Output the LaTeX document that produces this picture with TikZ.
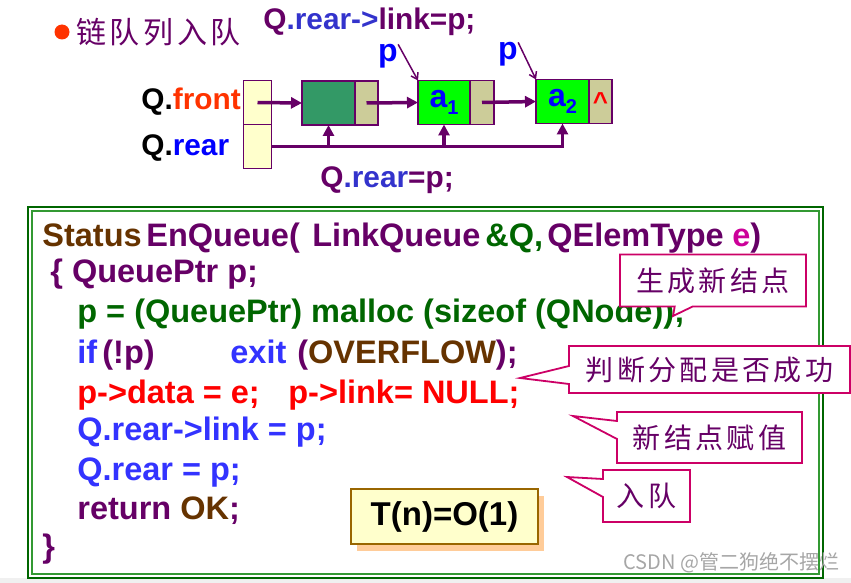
\documentclass[tikz,border=0pt]{standalone}
\usepackage{fontspec}
\setmainfont{Liberation Sans}
\newfontfamily\cjk[LetterSpace=12]{Noto Sans CJK SC}
\newfontfamily\wmfont{Noto Sans CJK SC}
\usetikzlibrary{arrows.meta,positioning,shapes.callouts}

\definecolor{qpurple}{HTML}{660066}
\definecolor{qbrown}{HTML}{663300}
\definecolor{qgreen}{HTML}{006600}
\definecolor{qblue}{HTML}{3333FF}
\definecolor{tblue}{HTML}{3333CC}
\definecolor{qred}{HTML}{FF0000}
\definecolor{qmag}{HTML}{CC0099}
\definecolor{qorange}{HTML}{FF3300}
\definecolor{cmag}{HTML}{CC0066}
\definecolor{cellyellow}{HTML}{FFFFCC}
\definecolor{headgreen}{HTML}{339966}
\definecolor{datagreen}{HTML}{00FF00}
\definecolor{linkkhaki}{HTML}{CCCC99}
\definecolor{tbrown}{HTML}{996600}
\definecolor{peach}{HTML}{FFCC99}
\definecolor{framegreen}{HTML}{006600}
\definecolor{framegreen2}{HTML}{339933}

\tikzset{every picture/.style={line width=0.75pt}}

\begin{document}
\begin{tikzpicture}[x=1pt,y=1pt,yscale=-1,xscale=1,
  code/.style={anchor=base west,inner sep=0pt,font=\fontsize{32.5}{32.5}\selectfont\bfseries},
  lbl/.style={anchor=base west,inner sep=0pt,font=\fontsize{29.8}{29.8}\selectfont\bfseries},
  cell/.style={draw=qpurple,line width=1.2pt,minimum height=44pt,inner sep=0pt,outer sep=0pt,
    font=\fontsize{32}{32}\selectfont\bfseries},
  ptr/.style={draw=qpurple,line width=3.5pt,-{Triangle[length=11pt,width=11pt]}},
  parrow/.style={draw=qpurple,line width=1.5pt,-{Straight Barb[length=6pt,width=8pt]}},
  callbox/.style={rectangle callout,draw=cmag,line width=1.8pt,fill=white,inner sep=0pt,
    callout pointer width=18pt,text=qpurple,font={\cjk\fontsize{28}{28}\selectfont}}]
\useasboundingbox (0,0) rectangle (851,583);
\fill[gray!12] (0,578) rectangle (851,583);

% heading
\fill[qorange] (62,32) circle (7.5);
\node[anchor=west,inner sep=0pt,text=qpurple,font={\cjk\fontsize{30}{30}\selectfont}] (title) at (76,32) {链队列入队};
\node[lbl] (setlink) at (263,30) {\textcolor{qpurple}{Q}\textcolor{tblue}{.rear->}\textcolor{qpurple}{link=p;}};
\node[lbl] (setrear) at (320,187) {\textcolor{qpurple}{Q}\textcolor{tblue}{.rear}\textcolor{qpurple}{=p;}};
\node[lbl] (frontlbl) at (141,110) {Q.\textcolor{qorange}{front}};
\node[lbl] (rearlbl) at (141,155) {Q.\textcolor{blue}{rear}};

% queue head and nodes
\node[cell,fill=cellyellow,minimum width=28pt] (qf) at (257.5,102.5) {};
\node[cell,fill=cellyellow,minimum width=28pt,below=0pt of qf] (qr) {};
\node[cell,fill=headgreen,minimum width=53pt] (n0d) at (328.5,103) {};
\node[cell,fill=linkkhaki,minimum width=23pt,right=0pt of n0d] (n0p) {};
\node[cell,fill=datagreen,minimum width=52pt,text=blue] (n1d) at (444,102.5) {a\raisebox{-7pt}{\fontsize{20}{20}\selectfont 1}};
\node[cell,fill=linkkhaki,minimum width=24pt,right=0pt of n1d] (n1p) {};
\node[cell,fill=datagreen,minimum width=53pt,text=blue] (n2d) at (562.5,101.5) {a\raisebox{-7pt}{\fontsize{20}{20}\selectfont 2}};
\node[cell,fill=linkkhaki,minimum width=23pt,right=0pt of n2d,text=qred,font=\fontsize{26}{26}\selectfont\bfseries] (n2p) {\raisebox{-5pt}{\textasciicircum}};

% pointers
\draw[ptr] (qf.center) -- (n0d.west);
\draw[ptr] (n0p.center) -- (n1d.west);
\draw[ptr] (n1p.center) -- (n2d.west);
\draw[ptr] (qr.east) -| (n2d.south);
\draw[ptr] (n0d.south |- qr.east) -- (n0d.south);
\draw[ptr] (n1d.south |- qr.east) -- (n1d.south);

\node[anchor=base,inner sep=0pt,text=blue,font=\fontsize{32}{32}\selectfont\bfseries] (p1) at (388,62) {p};
\node[anchor=base,inner sep=0pt,text=blue,font=\fontsize{32}{32}\selectfont\bfseries] (p2) at (508,60) {p};
\draw[parrow] (p1.north east) -- (n1d.north west);
\draw[parrow] (p2.north east) -- (n2d.north west);

% code frame
\draw[framegreen,line width=2.5pt] (28,207) rectangle (823,578);
\draw[framegreen2,line width=1.5pt] (32,211) rectangle (819,574);

% code lines
\node[code,text=qbrown] (l1a) at (42,246) {Status};
\node[code,text=qpurple] (l1b) at (146,246) {EnQueue(};
\node[code,text=qpurple] (l1c) at (312,246) {LinkQueue};
\node[code,text=qgreen] (l1d) at (485,246) {\&Q,};
\node[code,text=qpurple] (l1e) at (547,246) {QElemType};
\node[code,text=qpurple] (l1f) at (732,246) {\textcolor{qmag}{e})};
\node[code,text=qpurple] (l2) at (50,282) {\{ QueuePtr p;};
\node[code,text=qgreen] (l3) at (77,322) {p = (QueuePtr) malloc (sizeof (QNode));};
\node[code,text=qblue] (l4a) at (77,363) {if};
\node[code,text=qpurple] (l4b) at (102,363) {(!p)};
\node[code,text=qblue] (l4c) at (230,363) {exit};
\node[code,text=qpurple] (l4d) at (297,363) {(\textcolor{qbrown}{OVERFLOW});};
\node[code,text=qred] (l5a) at (77,403) {p->data = e;};
\node[code,text=qred] (l5b) at (288,403) {p->link= NULL;};
\node[code,text=qblue] (l6) at (77,440) {Q.rear->link = p;};
\node[code,text=qblue] (l7) at (77,480) {Q.rear = p;};
\node[code,text=qpurple] (l8) at (77,519) {return \textcolor{qbrown}{OK};};
\node[code,text=qpurple] (l9) at (42,557) {\}};

% time cost
\fill[peach] (357,496) rectangle (544,551);
\node[draw=tbrown,fill=cellyellow,line width=2.2pt,minimum width=187pt,minimum height=55pt,
  inner sep=0pt,font=\fontsize{33}{33}\selectfont\bfseries] (cost) at (444.5,516.5) {T(n)=O(1)};

% callouts
\node[callbox,minimum width=186pt,minimum height=52pt,callout absolute pointer={(673,316)}] (c1) at (713,280.5) {生成新结点};
\node[callbox,minimum width=281pt,minimum height=47pt,callout absolute pointer={(520,378)}] (c2) at (709.5,369.5) {判断分配是否成功};
\node[callbox,minimum width=185pt,minimum height=51pt,callout absolute pointer={(573,416)}] (c3) at (709.5,437.5) {新结点赋值};
\node[callbox,minimum width=87pt,minimum height=52pt,callout absolute pointer={(567,477)}] (c4) at (646.5,496) {入队};

% watermark
\node[anchor=base west,inner sep=0pt,text=gray!70,font={\wmfont\fontsize{20}{20}\selectfont}] (wm) at (623,569) {CSDN @管二狗绝不摆烂};
\end{tikzpicture}
\end{document}
